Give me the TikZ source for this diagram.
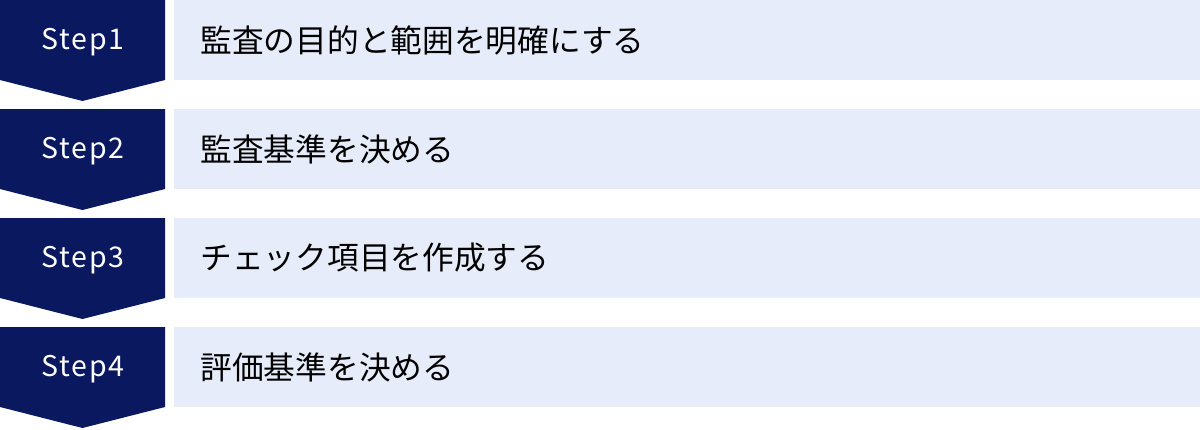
\documentclass[tikz,border=0pt]{standalone}
\usepackage{fontspec}
\setmainfont{Noto Sans CJK JP}
\newfontfamily\stepfont[LetterSpace=6]{Noto Sans CJK JP}
\definecolor{navy}{RGB}{10,24,96}
\definecolor{pale}{RGB}{230,236,250}
\begin{document}
\begin{tikzpicture}[x=1pt,y=-1pt,
  steptext/.style={text=white,font=\stepfont\fontsize{28.5}{28.5}\selectfont,anchor=center},
  bodytext/.style={text=black,font=\fontsize{31.7}{31.7}\selectfont,anchor=west},
  arrowshape/.style={fill=navy,draw=none},
  barshape/.style={fill=pale,draw=none}]
\useasboundingbox (0,0) rectangle (1200,429);
\foreach \i/\t in {0/監査の目的と範囲を明確にする,1/監査基準を決める,2/チェック項目を作成する,3/評価基準を決める}{
  \pgfmathsetmacro{\y}{\i*109}
  \fill[arrowshape] (0,\y) -- (165,\y) -- (165,\y+80) -- (82.5,\y+101) -- (0,\y+80) -- cycle;
  \fill[barshape] (174,\y) rectangle (1200,\y+80);
  \pgfmathtruncatemacro{\n}{\i+1}
  \node[steptext] (s\n) at (83,\y+42) {Step\n};
  \node[bodytext] (b\n) at (197,\y+40) {\t};
}
\end{tikzpicture}
\end{document}
